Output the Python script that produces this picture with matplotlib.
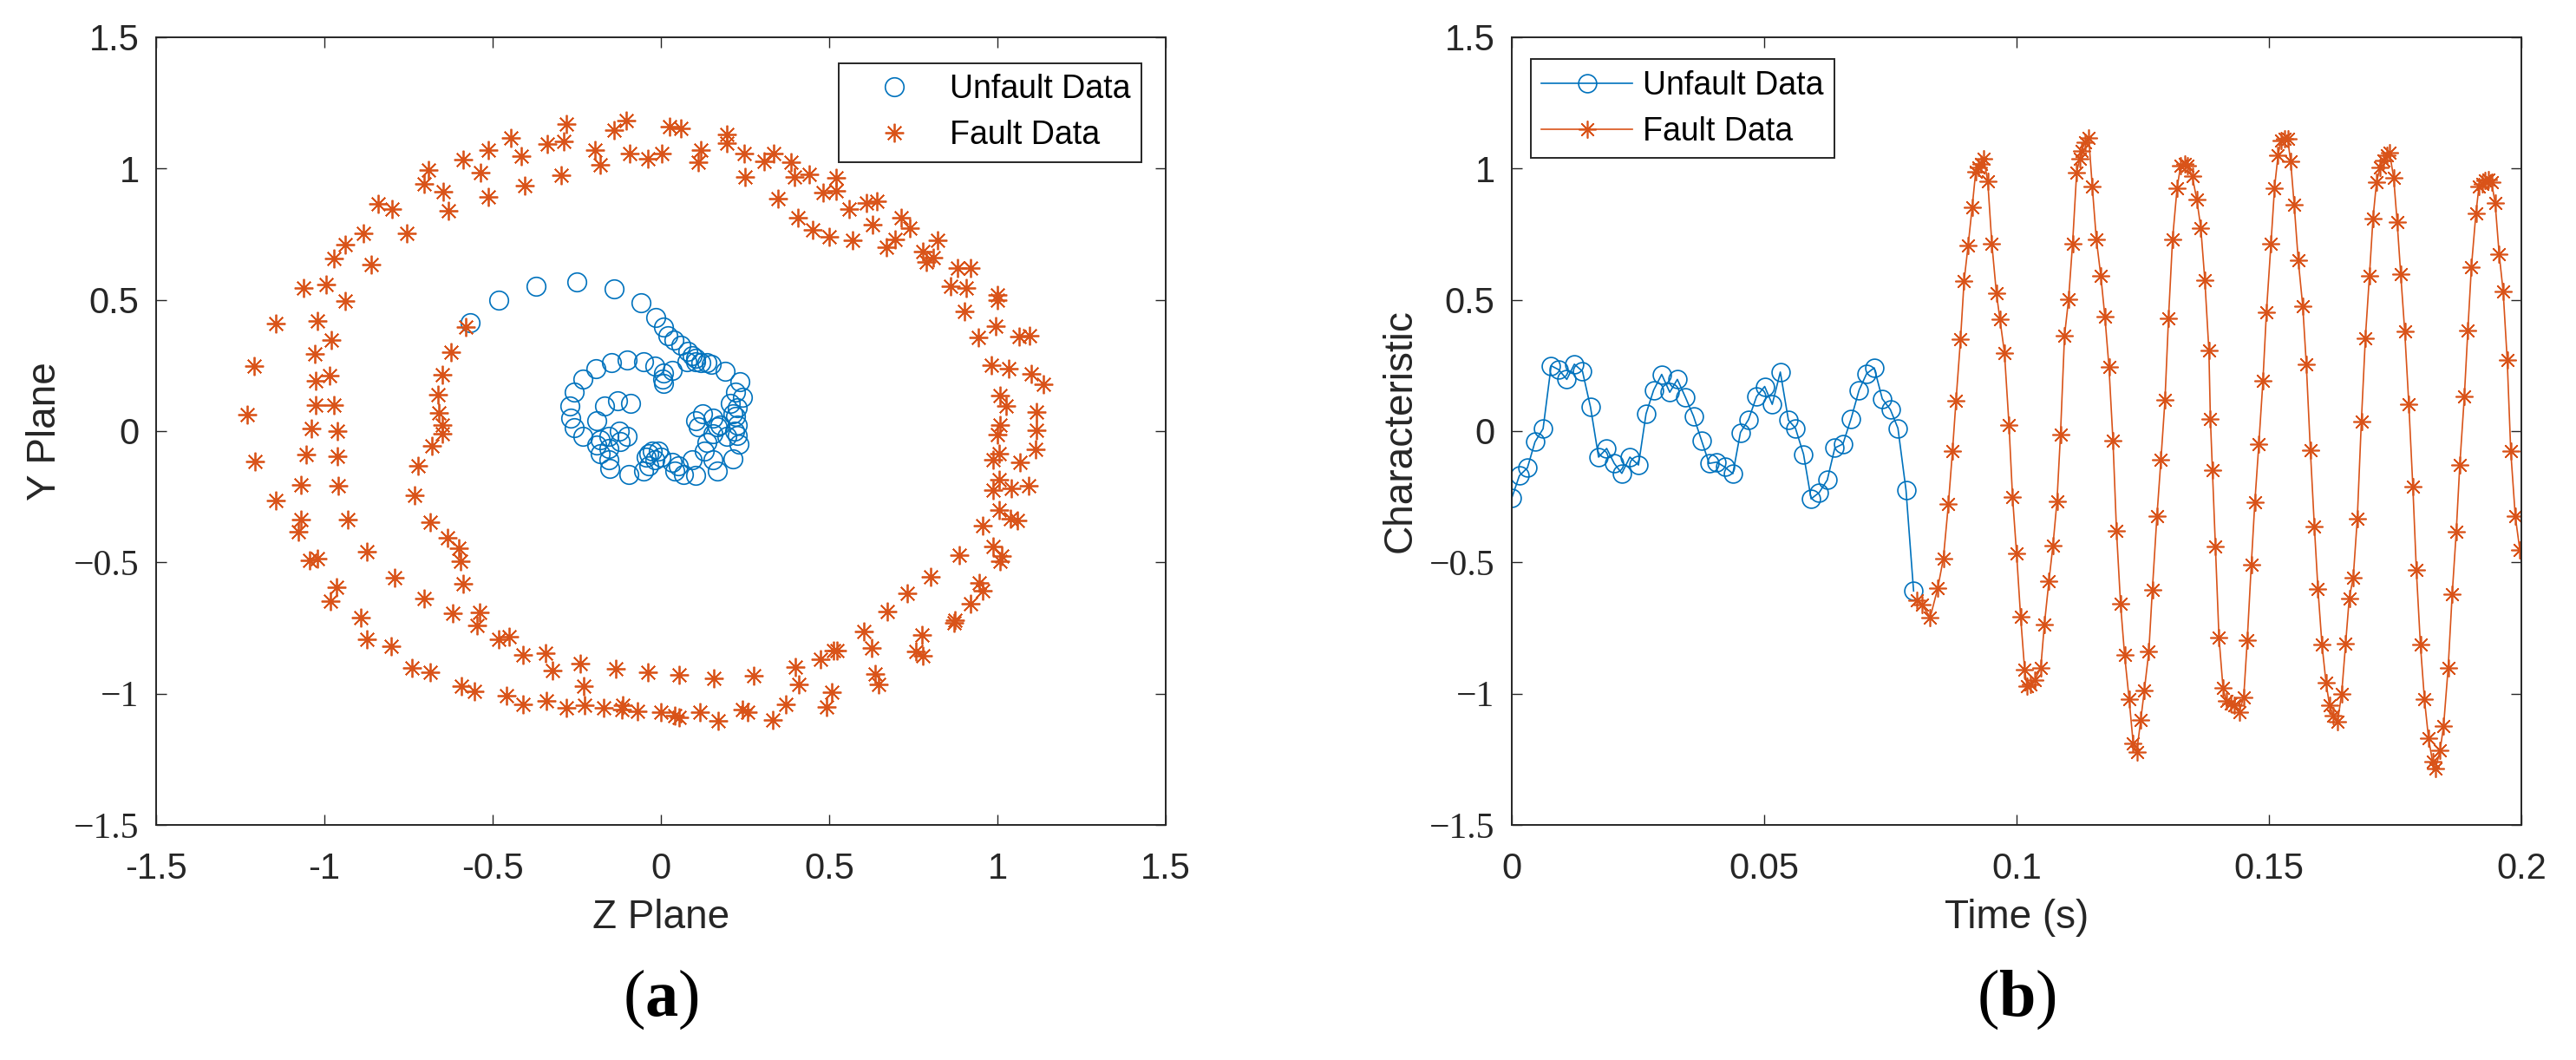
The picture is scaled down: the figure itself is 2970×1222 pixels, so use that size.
"""
Two-panel figure: Z/Y plane trajectory (a) and characteristic over time (b).
"""

import matplotlib.pyplot as plt

plt.rcParams["font.family"] = ["Liberation Sans", "DejaVu Sans"]
plt.rcParams["mathtext.fontset"] = "custom"
plt.rcParams["mathtext.rm"] = "Liberation Serif"
plt.rcParams["mathtext.bf"] = "Liberation Serif:bold"

BLUE = "#0072BD"
ORANGE = "#D95319"
AX_COLOR = "#262626"
ASTERISK = (8, 2, 0)

# ---- panel (a): Z plane vs Y plane
unfault_z = [
    -0.568, -0.482, -0.370, -0.250, -0.138, -0.059, -0.016, 0.008, 0.021, 0.038,
    0.059, 0.081, 0.094, 0.102, 0.119, 0.137, 0.149, 0.192, 0.235, 0.222,
    0.241, 0.227, 0.222, 0.227, 0.227, 0.231, 0.214, 0.167, 0.102, 0.094,
    0.128, 0.137, 0.154, 0.167, 0.154, 0.124, 0.102, 0.111, 0.051, 0.042,
    0.033, -0.001, -0.018, -0.035, -0.044, -0.027, -0.009, -0.052, -0.095, -0.151,
    -0.155, -0.181, -0.190, -0.181, -0.155, -0.125, -0.100, -0.121, -0.155, -0.190,
    -0.168, -0.130, -0.091, -0.233, -0.258, -0.267, -0.271, -0.258, -0.233, -0.194,
    -0.147, -0.100, -0.052, -0.018, 0.008, 0.006, 0.008, 0.034, 0.077, 0.102,
    0.175, 0.197, 0.218, 0.214, 0.205, 0.154, -0.035, 0.068,
]
unfault_y = [
    0.414, 0.499, 0.552, 0.568, 0.543, 0.488, 0.433, 0.395, 0.364, 0.348,
    0.326, 0.304, 0.287, 0.265, 0.260, 0.260, 0.254, 0.227, 0.188, 0.150,
    0.128, 0.089, 0.056, 0.023, -0.015, -0.048, -0.107, -0.153, -0.170, -0.109,
    -0.076, -0.043, -0.010, 0.018, 0.051, 0.067, 0.040, 0.018, -0.131, -0.153,
    -0.120, -0.098, -0.109, -0.131, -0.098, -0.076, -0.076, -0.153, -0.164, -0.142,
    -0.109, -0.087, -0.054, -0.032, -0.021, 0.001, -0.021, -0.038, -0.065, 0.040,
    0.095, 0.117, 0.106, -0.021, 0.012, 0.051, 0.095, 0.150, 0.199, 0.238,
    0.260, 0.271, 0.265, 0.249, 0.221, 0.199, 0.183, 0.232, 0.265, 0.276,
    0.023, -0.021, 0.001, 0.067, 0.106, -0.109, -0.087, -0.164,
]

fault_z = [
    # upper left
    -0.282, -0.104, -0.140, -0.446, -0.338, -0.289, -0.514, -0.196, -0.093, -0.039,
    -0.416, -0.180, -0.587, -0.536, -0.691, -0.703, -0.648, -0.297, -0.405, -0.514,
    -0.632, -0.841, -0.800, -0.755, -0.884, -0.939, -0.972, -0.862, -1.062, -0.996,
    -0.939, -1.145, -1.021, -0.980, -1.029, -1.208, -1.027, -0.984, -1.027, -0.972,
    -1.229, -0.581, -0.625, -0.649, -0.662, -0.660,
    # upper right
    0.027, 0.059, 0.003, 0.195, 0.197, 0.118, 0.111, 0.248, 0.336, 0.306,
    0.250, 0.386, 0.397, 0.440, 0.521, 0.521, 0.482, 0.349, 0.560, 0.612,
    0.642, 0.407, 0.450, 0.499, 0.569, 0.629, 0.714, 0.740, 0.697, 0.669,
    0.821, 0.778, 0.789, 0.809, 0.881, 0.920, 0.860, 0.907, 0.903, 1.000,
    1.000, 0.996, 0.944, 1.064, 1.095, 0.983, 1.034, 1.101, 1.137, 1.007,
    1.026, 1.116,
    # lower left
    -1.039, -0.961, -1.206, -1.055, -0.961, -1.069, -0.959, -1.145, -1.069, -1.077,
    -0.931, -1.045, -1.021, -0.873, -0.963, -0.982, -0.893, -0.875, -0.791, -0.802,
    -0.704, -0.739, -0.686, -0.649, -0.649, -0.681, -0.722, -0.733, -0.686, -0.634,
    -0.600, -0.595, -0.588, -0.619, -0.539, -0.546, -0.482, -0.450, -0.409, -0.344,
    -0.323, -0.239, -0.230, -0.134, -0.038, -0.594, -0.555, -0.459, -0.411, -0.340,
    -0.280, -0.227, -0.170, -0.113, -0.117, -0.070,
    # lower right
    0.053, 0.156, 0.277, 0.400, 0.410, 0.473, 0.512, 0.523, 0.603, 0.626,
    0.672, 0.732, 0.802, 0.887, 0.957, 0.987, 1.013, 1.009, 0.947, 0.957,
    0.920, 0.874, 0.870, 0.775, 0.758, 0.778, 0.637, 0.646, 0.508, 0.493,
    0.370, 0.332, 0.242, 0.259, 0.171, 0.117, 0.053, 0.040, 0.000, 1.009,
    1.000, 1.116, 1.113, 1.006, 0.987, 1.067, 1.006, 0.987, 1.041, 1.093,
    1.006, 1.039, 1.060,
]
fault_y = [
    # upper left
    1.171, 1.183, 1.146, 1.116, 1.094, 1.102, 1.072, 1.072, 1.056, 1.038,
    1.047, 1.014, 1.034, 0.984, 0.995, 0.943, 0.913, 0.976, 0.935, 0.893,
    0.840, 0.866, 0.847, 0.752, 0.752, 0.711, 0.656, 0.636, 0.546, 0.557,
    0.497, 0.411, 0.420, 0.348, 0.295, 0.249, 0.190, 0.210, 0.100, 0.098,
    0.064, 0.397, 0.302, 0.216, 0.139, 0.069,
    # upper right
    1.160, 1.152, 1.058, 1.130, 1.097, 1.069, 1.023, 1.058, 1.058, 1.027,
    0.968, 1.025, 0.968, 0.978, 0.965, 0.915, 0.910, 0.885, 0.847, 0.869,
    0.877, 0.814, 0.766, 0.741, 0.728, 0.785, 0.813, 0.772, 0.731, 0.700,
    0.728, 0.684, 0.645, 0.660, 0.621, 0.621, 0.552, 0.546, 0.455, 0.519,
    0.499, 0.401, 0.356, 0.361, 0.364, 0.251, 0.238, 0.218, 0.177, 0.135,
    0.095, 0.073,
    # lower left
    0.010, 0.001, -0.115, -0.089, -0.095, -0.205, -0.208, -0.265, -0.338, -0.384,
    -0.337, -0.491, -0.486, -0.459, -0.594, -0.649, -0.709, -0.792, -0.560, -0.819,
    -0.638, -0.902, -0.918, 0.023, -0.010, -0.056, -0.133, -0.244, -0.346, -0.406,
    -0.445, -0.494, -0.580, -0.693, -0.690, -0.739, -0.792, -0.783, -0.852, -0.845,
    -0.911, -0.886, -0.970, -0.905, -0.918, -0.970, -0.992, -1.007, -1.040, -1.029,
    -1.054, -1.045, -1.054, -1.045, -1.062, -1.067,
    # lower right
    -0.927, -0.941, -0.932, -0.900, -0.965, -0.869, -0.836, -0.836, -0.762, -0.825,
    -0.687, -0.619, -0.555, -0.472, -0.359, -0.439, -0.475, -0.494, -0.579, -0.608,
    -0.658, -0.720, -0.731, -0.778, -0.838, -0.856, -0.924, -0.966, -0.995, -1.050,
    -1.040, -1.100, -1.062, -1.069, -1.105, -1.072, -1.089, -1.084, -1.069, 0.023,
    -0.012, 0.003, -0.070, -0.087, -0.109, -0.120, -0.186, -0.225, -0.219, -0.208,
    -0.302, -0.335, -0.340,
]

# ---- panel (b): characteristic over time
unfault_t = [
    0.0000, 0.0015, 0.0031, 0.0046, 0.0062, 0.0078, 0.0093, 0.0109, 0.0124, 0.0140,
    0.0156, 0.0172, 0.0188, 0.0203, 0.0218, 0.0234, 0.0251, 0.0266, 0.0281, 0.0297,
    0.0313, 0.0328, 0.0344, 0.0360, 0.0376, 0.0391, 0.0406, 0.0422, 0.0438, 0.0453,
    0.0469, 0.0485, 0.0501, 0.0516, 0.0532, 0.0548, 0.0562, 0.0578, 0.0593, 0.0609,
    0.0625, 0.0640, 0.0656, 0.0672, 0.0688, 0.0703, 0.0718, 0.0734, 0.0750, 0.0765,
    0.0781, 0.0796,
]
unfault_c = [
    -0.255, -0.170, -0.140, -0.041, 0.009, 0.249, 0.234, 0.197, 0.255, 0.228,
    0.091, -0.099, -0.066, -0.123, -0.161, -0.099, -0.129, 0.066, 0.156, 0.216,
    0.148, 0.197, 0.129, 0.057, -0.036, -0.123, -0.118, -0.137, -0.162, -0.005,
    0.044, 0.132, 0.170, 0.102, 0.225, 0.042, 0.011, -0.088, -0.258, -0.234,
    -0.186, -0.064, -0.049, 0.046, 0.156, 0.219, 0.241, 0.123, 0.082, 0.011,
    -0.225, -0.609,
]

fault_t = [
    0.0803, 0.0812, 0.0829, 0.0844, 0.0855, 0.0865, 0.0873, 0.0880, 0.0889, 0.0896,
    0.0904, 0.0912, 0.0919, 0.0925, 0.0929, 0.0935, 0.0943, 0.0951, 0.0960, 0.0967,
    0.0976, 0.0985, 0.0992, 0.1000, 0.1008, 0.1016, 0.1021, 0.1028, 0.1036, 0.1048,
    0.1055, 0.1064, 0.1072, 0.1080, 0.1087, 0.1095, 0.1103, 0.1111, 0.1119, 0.1125,
    0.1129, 0.1135, 0.1143, 0.1150, 0.1158, 0.1167, 0.1175, 0.1183, 0.1191, 0.1198,
    0.1206, 0.1214, 0.1223, 0.1231, 0.1238, 0.1246, 0.1253, 0.1262, 0.1269, 0.1278,
    0.1286, 0.1294, 0.1301, 0.1309, 0.1318, 0.1325, 0.1333, 0.1339, 0.1348, 0.1357,
    0.1365, 0.1373, 0.1381, 0.1384, 0.1388, 0.1394, 0.1401, 0.1409, 0.1415, 0.1424,
    0.1432, 0.1441, 0.1450, 0.1457, 0.1465, 0.1472, 0.1480, 0.1488, 0.1495, 0.1504,
    0.1511, 0.1518, 0.1524, 0.1531, 0.1537, 0.1543, 0.1550, 0.1558, 0.1567, 0.1574,
    0.1582, 0.1590, 0.1597, 0.1605, 0.1613, 0.1620, 0.1628, 0.1636, 0.1644, 0.1652,
    0.1659, 0.1667, 0.1675, 0.1683, 0.1691, 0.1699, 0.1706, 0.1713, 0.1720, 0.1727,
    0.1733, 0.1739, 0.1747, 0.1754, 0.1761, 0.1769, 0.1777, 0.1785, 0.1792, 0.1800,
    0.1808, 0.1816, 0.1824, 0.1830, 0.1839, 0.1846, 0.1855, 0.1863, 0.1871, 0.1878,
    0.1887, 0.1894, 0.1901, 0.1910, 0.1916, 0.1922, 0.1928, 0.1934, 0.1941, 0.1948,
    0.1956, 0.1964, 0.1972, 0.1979, 0.1988, 0.1997,
]
fault_c = [
    -0.645, -0.661, -0.709, -0.597, -0.485, -0.277, -0.077, 0.115, 0.350, 0.571,
    0.707, 0.851, 0.987, 1.003, 1.019, 1.038, 0.950, 0.715, 0.526, 0.427,
    0.299, 0.024, -0.250, -0.466, -0.706, -0.909, -0.973, -0.965, -0.949, -0.901,
    -0.738, -0.573, -0.437, -0.269, -0.013, 0.363, 0.502, 0.715, 0.984, 1.038,
    1.067, 1.099, 1.118, 0.931, 0.731, 0.590, 0.435, 0.246, -0.037, -0.381,
    -0.658, -0.853, -1.021, -1.189, -1.221, -1.101, -0.989, -0.840, -0.605, -0.325,
    -0.109, 0.118, 0.430, 0.731, 0.926, 1.011, 1.019, 1.011, 0.971, 0.883,
    0.774, 0.574, 0.307, 0.046, -0.149, -0.440, -0.786, -0.978, -1.026, -1.037,
    -1.045, -1.069, -1.013, -0.797, -0.509, -0.272, -0.048, 0.190, 0.454, 0.715,
    0.926, 1.051, 1.107, 1.115, 1.112, 1.027, 0.862, 0.651, 0.475, 0.254,
    -0.072, -0.365, -0.600, -0.813, -0.957, -1.045, -1.085, -1.106, -1.000, -0.808,
    -0.637, -0.557, -0.333, 0.035, 0.355, 0.590, 0.808, 0.947, 1.003, 1.032,
    1.051, 1.059, 0.966, 0.795, 0.598, 0.379, 0.104, -0.210, -0.530, -0.813,
    -1.021, -1.168, -1.259, -1.285, -1.216, -1.122, -0.901, -0.621, -0.384, -0.130,
    0.131, 0.384, 0.624, 0.830, 0.931, 0.942, 0.955, 0.958, 0.947, 0.870,
    0.675, 0.531, 0.270, -0.077, -0.325, -0.453,
]

y_ticks = [-1.5, -1, -0.5, 0, 0.5, 1, 1.5]
y_tick_labels = ["\u22121.5", "\u22121", "\u22120.5", "0", "0.5", "1", "1.5"]
a_x_ticks = [-1.5, -1, -0.5, 0, 0.5, 1, 1.5]
a_x_tick_labels = ["-1.5", "-1", "-0.5", "0", "0.5", "1", "1.5"]
b_x_ticks = [0, 0.05, 0.1, 0.15, 0.2]
b_x_tick_labels = ["0", "0.05", "0.1", "0.15", "0.2"]


def style_axes(ax, xticks, xlabels, xlabel, ylabel):
    """MATLAB-like box axes with inward ticks on all sides."""
    ax.set_ylim(-1.5, 1.5)
    ax.set_xticks(xticks, labels=xlabels)
    ax.set_yticks(y_ticks, labels=y_tick_labels)
    for label in ax.get_yticklabels():
        if label.get_text().startswith("\u2212"):
            label.set_fontfamily("Liberation Serif")
    ax.tick_params(direction="in", length=8.6, width=1.0, top=True, right=True,
                   labelsize=30, colors=AX_COLOR)
    ax.tick_params(axis="x", pad=22)
    ax.tick_params(axis="y", pad=14)
    for spine in ax.spines.values():
        spine.set_color(AX_COLOR)
        spine.set_linewidth(1.4)
    ax.set_xlabel(xlabel, fontsize=33, color=AX_COLOR, va="center")
    ax.set_ylabel(ylabel, fontsize=33, color=AX_COLOR, va="center")
    ax.xaxis.set_label_coords(0.5, -0.118)
    ax.yaxis.set_label_coords(-0.110, 0.5)


def add_legend(ax, loc, anchor):
    legend = ax.legend(loc=loc, bbox_to_anchor=anchor, borderaxespad=0, fontsize=27,
                       fancybox=False, framealpha=1, edgecolor=AX_COLOR, borderpad=0.33,
                       handlelength=2.8, handletextpad=0.3, labelspacing=0.45)
    legend.get_frame().set_linewidth(1.4)
    return legend


fig = plt.figure(figsize=(29.70, 12.22), dpi=100)
ax_a = fig.add_axes([180 / 2970, 1 - 951 / 1222, 1164 / 2970, 908 / 1222])
ax_b = fig.add_axes([1743 / 2970, 1 - 951 / 1222, 1164 / 2970, 908 / 1222])

ax_a.plot(unfault_z, unfault_y, linestyle="none", marker="o", ms=15.5, mfc="none",
          mec=BLUE, mew=1.2, label="Unfault Data")
ax_a.plot(fault_z, fault_y, linestyle="none", marker=ASTERISK, ms=15.5,
          mec=ORANGE, mew=1.3, label="Fault Data")
ax_a.set_xlim(-1.5, 1.5)
style_axes(ax_a, a_x_ticks, a_x_tick_labels, "Z Plane", "Y Plane")
add_legend(ax_a, "upper right", (0.976, 0.967))

ax_b.plot(unfault_t, unfault_c, "-", color=BLUE, lw=1.2, marker="o", ms=15,
          mfc="none", mew=1.2, label="Unfault Data")
ax_b.plot(fault_t, fault_c, "-", color=ORANGE, lw=1.2, marker=ASTERISK, ms=14.5,
          mew=1.2, label="Fault Data")
ax_b.set_xlim(0, 0.2)
style_axes(ax_b, b_x_ticks, b_x_tick_labels, "Time (s)", "Characteristic")
add_legend(ax_b, "upper left", (0.019, 0.972))

for x_center, tag in [(762 / 2970, "a"), (2325 / 2970, "b")]:
    fig.text(x_center, 1 - 1152 / 1222, "($\\mathbf{" + tag + "}$)", ha="center",
             va="center", fontsize=55, family="Liberation Serif", color="black")

fig.savefig("out.png", dpi=100, facecolor="white")
plt.close(fig)
